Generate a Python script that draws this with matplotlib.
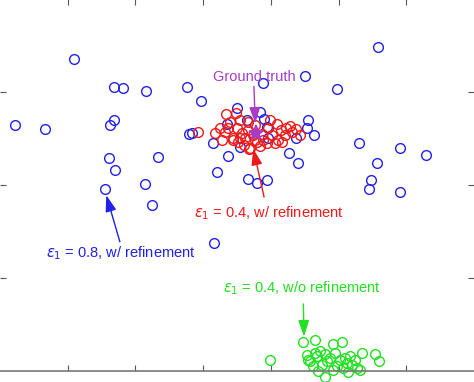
import matplotlib
matplotlib.use('Agg')
import matplotlib.pyplot as plt

plt.rcParams['font.family'] = ['Liberation Sans', 'DejaVu Sans']
plt.rcParams['mathtext.fontset'] = 'dejavusans'

# eps1 = 0.8, w/ refinement (blue)
blue_x = [1.09, 1.68, 1.82, 2.16, 2.76, 2.97, 0.22, 0.66, 1.68, 1.62, 2.79, 2.84,
          3.15, 3.35, 3.50, 1.61, 2.33, 1.70, 3.21, 3.37, 2.14, 1.55, 2.25, 3.16,
          5.58, 4.51, 3.88, 4.98, 3.84, 3.65, 3.90, 3.94, 3.96, 3.55, 4.55, 4.53,
          4.64, 4.37, 4.27, 4.40, 5.30, 5.91, 6.29, 5.57, 5.48, 5.45, 5.91, 3.66,
          3.80, 3.94]
blue_y = [3.35, 3.05, 3.04, 3.01, 3.05, 2.90, 2.65, 2.60, 2.70, 2.65, 2.55, 2.56,
          2.45, 2.66, 2.83, 2.29, 2.30, 2.16, 2.14, 2.31, 2.01, 1.96, 1.78, 1.38,
          3.48, 3.17, 3.10, 3.03, 2.78, 2.70, 2.71, 2.62, 2.51, 2.41, 2.70, 2.61,
          2.54, 2.51, 2.34, 2.24, 2.45, 2.40, 2.32, 2.24, 2.05, 1.96, 1.92, 2.06,
          2.02, 2.05]

# eps1 = 0.4, w/ refinement (red)
red_x = [2.92, 3.34, 3.49, 3.32, 3.37, 3.50, 3.44, 3.57, 3.52, 3.62, 3.66, 3.69,
         3.80, 3.77, 3.66, 4.09, 4.28, 4.15, 4.02, 4.11, 4.06, 4.17, 3.94, 4.43,
         3.68, 3.44, 3.25, 3.40, 3.55, 3.87, 3.96, 4.21, 4.31, 3.84, 3.60, 3.28,
         3.18, 3.99, 3.74, 4.22, 4.37, 3.55, 3.88, 3.77]
red_y = [2.57, 2.76, 2.77, 2.57, 2.61, 2.61, 2.51, 2.56, 2.46, 2.51, 2.59, 2.40,
         2.46, 2.65, 2.68, 2.66, 2.63, 2.59, 2.54, 2.48, 2.45, 2.46, 2.45, 2.54,
         2.39, 2.48, 2.61, 2.68, 2.70, 2.55, 2.61, 2.54, 2.57, 2.42, 2.43, 2.48,
         2.56, 2.70, 2.54, 2.61, 2.60, 2.50, 2.48, 2.48]

# eps1 = 0.4, w/o refinement (green)
green_x = [3.99, 4.48, 4.65, 4.92, 5.05, 5.54, 5.60, 5.35, 4.80, 4.53, 4.58, 4.68,
           4.80, 4.83, 4.76, 4.62, 4.55, 4.95, 4.98, 5.02, 5.10, 5.13, 5.17, 5.20,
           5.24, 5.27, 5.32, 5.07, 4.92, 4.87, 4.65, 4.73, 5.14, 4.70]
green_y = [0.12, 0.31, 0.33, 0.29, 0.31, 0.18, 0.11, 0.19, -0.06, 0.17, 0.11, 0.16,
           0.18, 0.11, 0.06, 0.05, 0.12, 0.19, 0.05, 0.12, 0.14, 0.09, 0.16, 0.06,
           0.12, 0.03, 0.01, 0.03, 0.01, 0.14, 0.19, 0.22, -0.01, 0.00]

truth_x, truth_y = 3.78, 2.56

fig = plt.figure(figsize=(4.74, 3.82), dpi=100)
ax = fig.add_axes([0, 11 / 382, 1, 372 / 382])

mk = dict(linestyle='none', marker='o', markerfacecolor='none', ms=7, mew=1.0, clip_on=False)
ax.plot(blue_x, blue_y, markeredgecolor='#2020e8', **mk)
ax.plot(red_x, red_y, markeredgecolor='#f01818', **mk)
ax.plot(green_x, green_y, markeredgecolor='#22e022', **mk)
ax.plot(truth_x, truth_y, marker='*', color='#a83cc8', ms=11, mew=1.2, clip_on=False)

def note(txt, tx, ty, ax0, ay0, ax1, ay1, col, ha='left'):
    ax.text(tx, ty, txt, color=col, fontsize=10.5, ha=ha, va='center')
    ax.annotate('', xy=(ax1, ay1), xytext=(ax0, ay0),
                arrowprops=dict(arrowstyle='-|>,head_length=0.9,head_width=0.3',
                                color=col, lw=1.0, mutation_scale=11,
                                shrinkA=0, shrinkB=0))

note('Ground truth', 3.75, 3.16, 3.75, 3.06, 3.77, 2.66, '#a83cc8', ha='center')
note(r'$\epsilon_1$ = 0.4, w/ refinement', 2.87, 1.70, 3.90, 1.87, 3.74, 2.39, '#f01818')
note(r'$\epsilon_1$ = 0.8, w/ refinement', 0.68, 1.27, 1.77, 1.39, 1.57, 1.89, '#2020e8')
note(r'$\epsilon_1$ = 0.4, w/o refinement', 3.29, 0.89, 4.48, 0.72, 4.49, 0.37, '#22e022')

ax.set_xlim(0, 7)
ax.set_ylim(0, 4)
ax.set_xticks([1, 2, 3, 4, 5, 6])
ax.set_yticks([1, 2, 3])
ax.tick_params(direction='in', length=4, width=0.8, color='#555555',
               top=True, right=True, labelbottom=False, labelleft=False)
for s in ['left', 'top', 'right']:
    ax.spines[s].set_visible(False)
ax.spines['bottom'].set_color('#777777')
ax.spines['bottom'].set_linewidth(1.2)

fig.savefig('out.png', dpi=100)
